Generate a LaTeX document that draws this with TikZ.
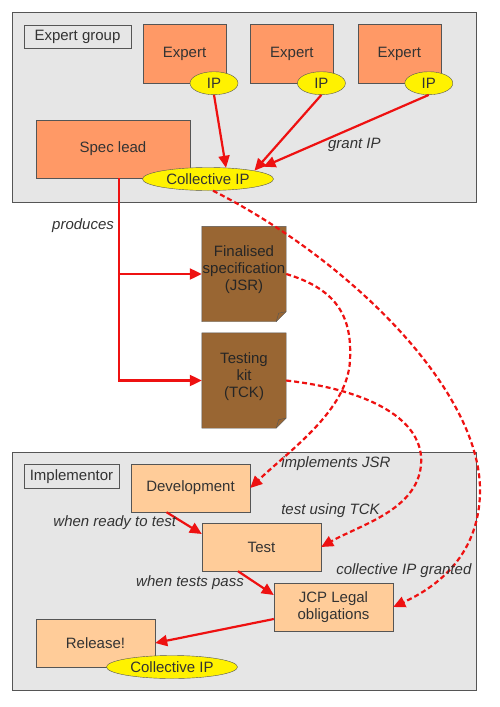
\documentclass[tikz,border=0pt]{standalone}
\usepackage{fontspec}
\setmainfont{Liberation Sans}
\usetikzlibrary{shapes.geometric, arrows.meta, positioning, backgrounds}
\definecolor{expertorange}{HTML}{FF9966}
\definecolor{implpeach}{HTML}{FFCC99}
\definecolor{docbrown}{HTML}{996633}
\definecolor{groupgrey}{HTML}{E6E6E6}
\definecolor{edgegrey}{HTML}{555555}
\definecolor{textgrey}{HTML}{333333}
\definecolor{arrowred}{HTML}{EE1111}
\tikzstyle{groupbox} = [rectangle, draw=edgegrey, fill=groupgrey, line width=0.8pt]
\tikzstyle{grouplabel} = [rectangle, draw=edgegrey, fill=groupgrey, minimum height=23pt, text=textgrey]
\tikzstyle{expert} = [rectangle, draw=edgegrey, fill=expertorange, minimum width=83pt, minimum height=59pt, text=textgrey]
\tikzstyle{ipblob} = [ellipse, draw=edgegrey, fill=yellow, minimum width=48pt, minimum height=23pt, inner sep=0pt, text=textgrey]
\tikzstyle{collective} = [ipblob, minimum width=131pt]
\tikzstyle{docsheet} = [rectangle, minimum width=84pt, minimum height=95pt, inner sep=0pt, align=center, text=black!85]
\tikzstyle{docedge} = [draw=edgegrey, fill=docbrown]
\tikzstyle{stage} = [rectangle, draw=edgegrey, fill=implpeach, minimum width=119pt, minimum height=48pt, align=center, text=textgrey]
\tikzstyle{arrow} = [line width=2.2pt, arrowred, -{Triangle[length=12pt,width=11pt]}]
\tikzstyle{promise} = [arrow, dash pattern=on 5pt off 3pt]
\tikzstyle{lbl} = [font=\itshape, text=textgrey, inner sep=0pt]

\begin{document}
\fontsize{15}{17}\selectfont
\begin{tikzpicture}[x=1pt, y=-1pt, node distance=24pt]
\useasboundingbox (0,0) rectangle (500,707);
% expert group
\node (grpexpert) [groupbox, minimum width=464pt, minimum height=190pt] at (244,107) {};
\node (lblexpert) [grouplabel, minimum width=107pt] at (77.5,36.5) {Expert group};
\node (expa) [expert] at (184.5,53.5) {Expert};
\node (expb) [expert, right=of expa] {Expert};
\node (expc) [expert, right=of expb] {Expert};
\node (ipa) [ipblob] at ([xshift=29.5pt]expa.south) {IP};
\node (ipb) [ipblob] at ([xshift=29.5pt]expb.south) {IP};
\node (ipc) [ipblob] at ([xshift=29.5pt]expc.south) {IP};
\node (spec) [expert, minimum width=154pt, minimum height=58pt] at (113,149) {Spec lead};
\node (cipa) [collective] at (208,179) {Collective IP};

% deliverables, sheets with a folded corner
\node (jsr) [docsheet] at (244,274) {Finalised\\specification\\(JSR)\\[-6pt]};
\node (tck) [docsheet] at (244,380.5) {Testing\\kit\\(TCK)\\[-6pt]};
\begin{scope}[on background layer]
\foreach \sheet in {jsr,tck} {
  \draw [docedge] (\sheet.north west) -- (\sheet.north east) -- ([yshift=10pt]\sheet.south east)
    -- ([xshift=-10pt]\sheet.south east) -- (\sheet.south west) -- cycle;
  \draw [edgegrey] ([xshift=-10pt]\sheet.south east) -- ++(2.5,-8.5) -- ++(7.5,-1.5);
}
\end{scope}

% implementor
\node (grpimpl) [groupbox, minimum width=464pt, minimum height=238pt] at (244,571) {};
\node (lblimpl) [grouplabel, minimum width=95pt] at (71.5,476.5) {Implementor};
\node (dev) [stage] at (190.5,488) {Development};
\node (test) [stage] at (261.5,547) {Test};
\node (jcp) [stage] at (333.5,607) {JCP Legal\\obligations};
\node (rel) [stage] at (95.5,643) {Release!};
\node (cipb) [collective] at (172,667) {Collective IP};

\draw [arrow] (ipa.south) -- (cipa.32);
\draw [arrow] (ipb.south) -- (cipa.north east);
\draw [arrow] (ipc.south) -- node[lbl, pos=0.45, below=10pt] {grant IP} ([xshift=9pt,yshift=4pt]cipa.north east);

\draw [arrow] ([xshift=6pt]spec.south) |- node[lbl, pos=0.25, anchor=east, xshift=-4pt] {produces} (jsr.west);
\draw [arrow] ([xshift=6pt]spec.south) |- (tck.west);

\draw [promise] (jsr.east) .. controls (340,290) and (352,320) .. (350,360) .. controls (348,410) and (290,450) .. (dev.east) node[lbl, anchor=west, xshift=30pt, yshift=24pt] {implements JSR};
\draw [promise] (tck.east) .. controls (370,390) and (425,420) .. (421,465) .. controls (417,510) and (360,525) .. (test.east) node[lbl, anchor=west, xshift=-41pt, yshift=36pt] {test using TCK};
\draw [promise] ([xshift=5pt]cipa.south) .. controls (350,260) and (480,390) .. (480,490) .. controls (480,560) and (430,590) .. (jcp.east) node[lbl, anchor=west, xshift=-58pt, yshift=36pt] {collective IP granted};

\draw [arrow] ([xshift=-24pt]dev.south) -- node[lbl, anchor=east, xshift=-7pt] {when ready to test} ([yshift=13pt]test.west);
\draw [arrow] ([xshift=-23.5pt]test.south) -- node[lbl, anchor=east, xshift=-11pt] {when tests pass} ([yshift=12pt]jcp.west);
\draw [arrow] ([yshift=-12pt]jcp.west) -- (rel.east);
\end{tikzpicture}
\end{document}
